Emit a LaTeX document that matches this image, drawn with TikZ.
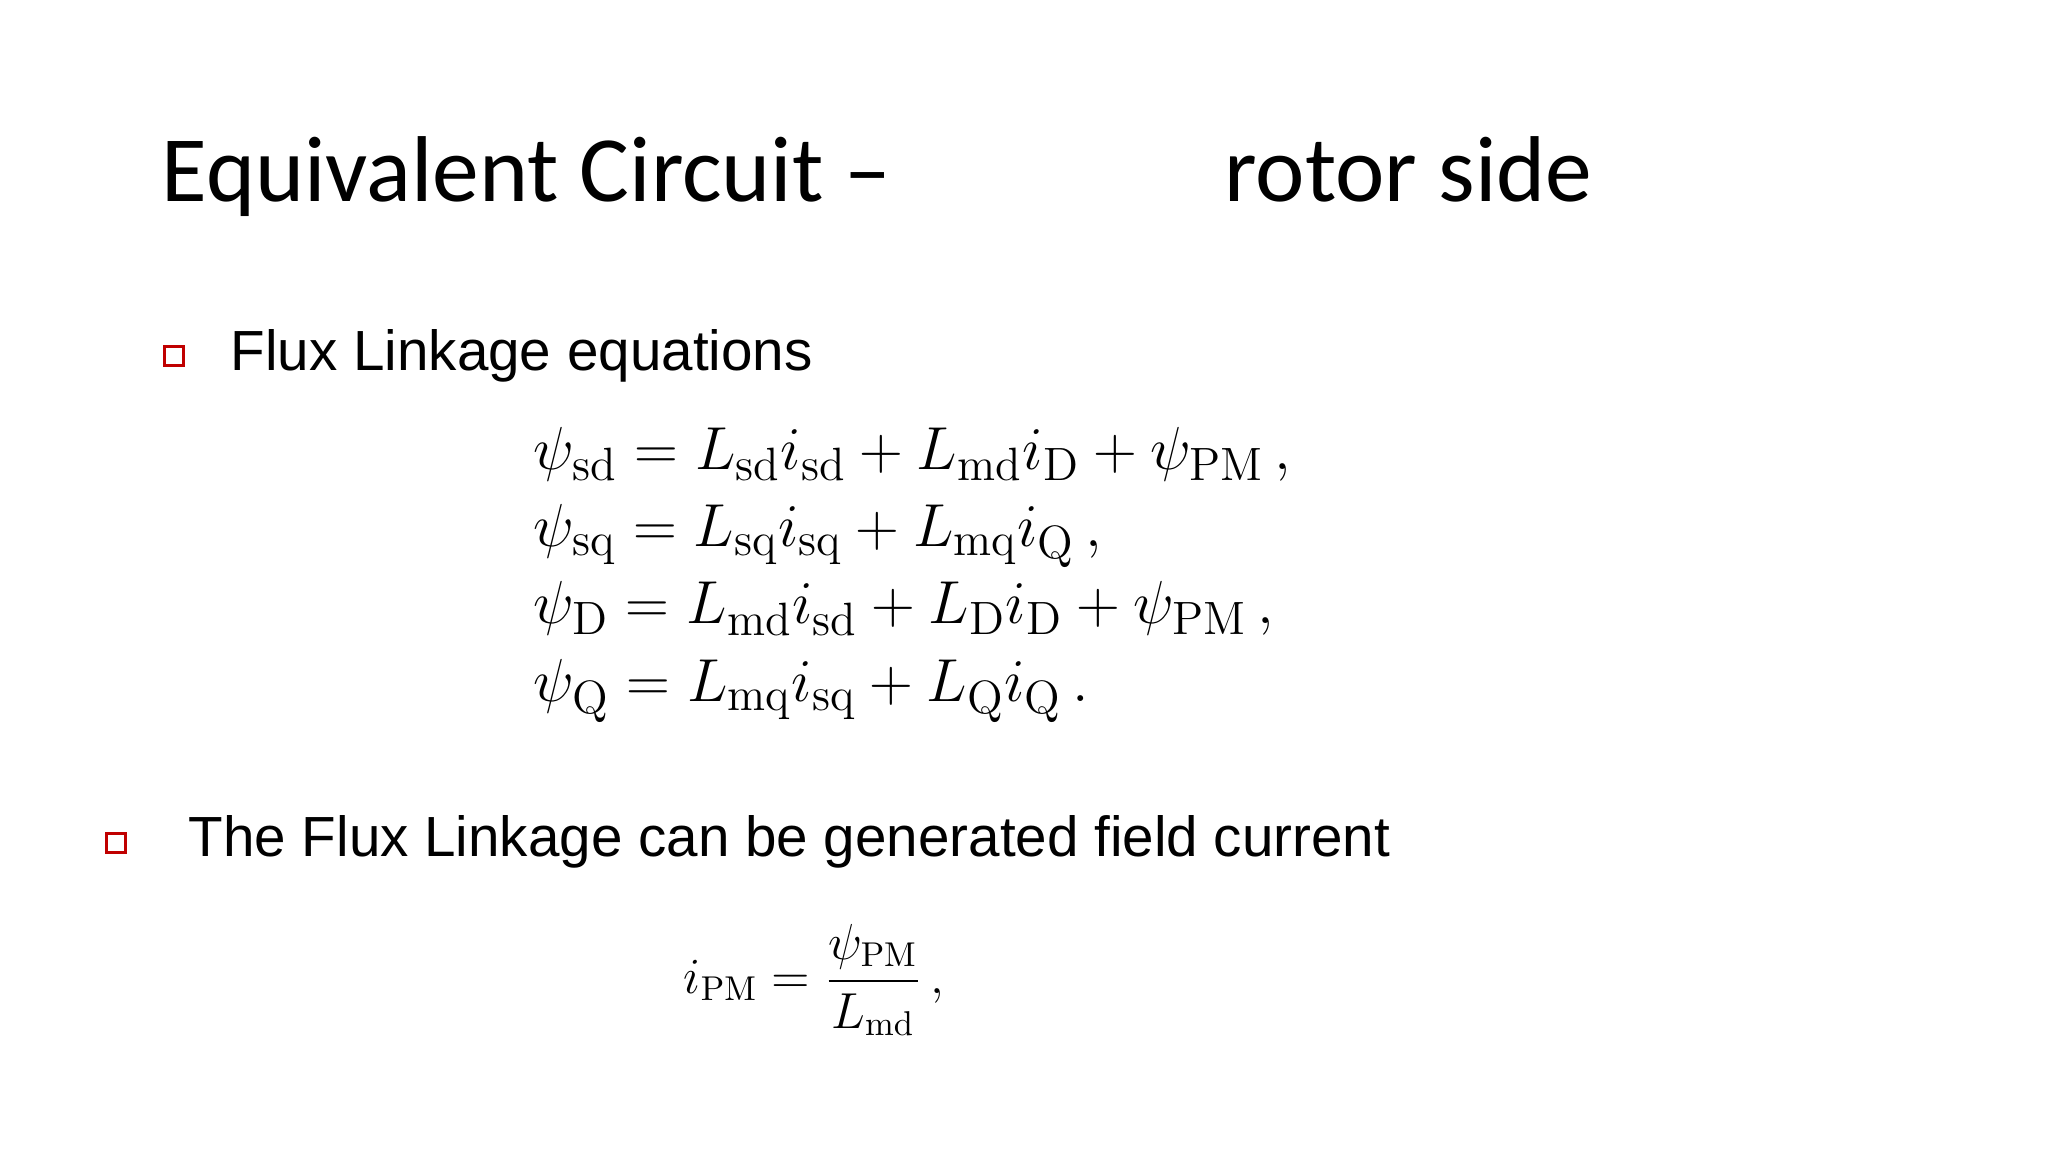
\documentclass[tikz,border=0pt]{standalone}
\usepackage{amsmath}
\usepackage{fontspec}
\newfontfamily\titlefont{Carlito}
\newfontfamily\bodyfont{Liberation Sans}
\definecolor{bulletred}{RGB}{192,0,0}
\tikzset{
  titletext/.style={anchor=base west,inner sep=0pt,font=\titlefont\fontsize{26.6}{32}\selectfont},
  bodytext/.style={anchor=base west,inner sep=0pt,font=\bodyfont\fontsize{16.1}{20}\selectfont},
  bulletbox/.style={draw=bulletred,line width=0.7pt,minimum size=0.19cm,inner sep=0pt},
  eqtext/.style={anchor=north west,inner sep=0pt,font=\fontsize{19}{23}\selectfont},
  fractext/.style={anchor=center,inner sep=0pt,font=\fontsize{14}{17}\selectfont}
}
\begin{document}
\begin{tikzpicture}[x=1cm,y=1cm]
\useasboundingbox (0,0) rectangle (20.48,11.52);
\node[titletext] (t1) at (1.61,9.50) {Equivalent Circuit –};
\node[titletext] (t2) at (12.24,9.50) {rotor side};
\node[bulletbox] (b1) at (1.74,7.96) {};
\node[bodytext] (l1) at (2.30,7.81) {Flux Linkage equations};
\node[eqtext] (eq) at (5.33,7.40) {$\arraycolsep=0pt\def\arraystretch{1}\begin{array}{l}
\psi_{\mathrm{sd}} = L_{\mathrm{sd}} i_{\mathrm{sd}} + L_{\mathrm{md}} i_{\mathrm{D}} + \psi_{\mathrm{PM}}\,,\\[-1pt]
\psi_{\mathrm{sq}} = L_{\mathrm{sq}} i_{\mathrm{sq}} + L_{\mathrm{mq}} i_{\mathrm{Q}}\,,\\[-1pt]
\psi_{\mathrm{D}} = L_{\mathrm{md}} i_{\mathrm{sd}} + L_{\mathrm{D}} i_{\mathrm{D}} + \psi_{\mathrm{PM}}\,,\\[-1pt]
\psi_{\mathrm{Q}} = L_{\mathrm{mq}} i_{\mathrm{sq}} + L_{\mathrm{Q}} i_{\mathrm{Q}}\,.
\end{array}$};
\node[bulletbox] (b2) at (1.16,3.09) {};
\node[bodytext] (l2) at (1.88,2.95) {The Flux Linkage can be generated field current};
\node[fractext] (fr) at (8.14,1.72) {$i_{\mathrm{PM}} = \dfrac{\psi_{\mathrm{PM}}}{L_{\mathrm{md}}}\,,$};
\end{tikzpicture}
\end{document}
